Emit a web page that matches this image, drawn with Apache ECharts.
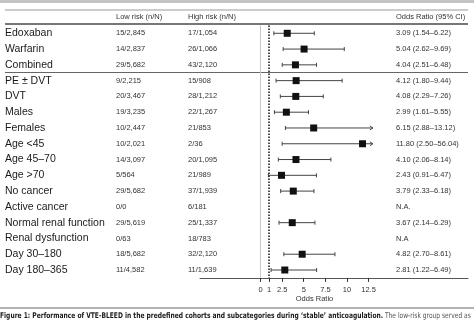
<!DOCTYPE html>
<html>
<head>
<meta charset="utf-8">
<script src="https://cdn.jsdelivr.net/npm/echarts@6/dist/echarts.min.js"></script>
<style>html,body{margin:0;padding:0;background:#fff}#c{width:474px;height:321px}</style>
</head>
<body>
<div id="c"></div>
<script>
const categories = ['Edoxaban','Warfarin','Combined','PE \u00b1 DVT','DVT','Males','Females','Age <45','Age 45\u201370','Age >70','No cancer','Active cancer','Normal renal function','Renal dysfunction','Day 30\u2013180','Day 180\u2013365'];
const lowRisk = ['15/2,845','14/2,837','29/5,682','9/2,215','20/3,467','19/3,235','10/2,447','10/2,021','14/3,097','5/564','29/5,682','0/0','29/5,619','0/63','18/5,682','11/4,582'];
const highRisk = ['17/1,054','26/1,066','43/2,120','15/908','28/1,212','22/1,267','21/853','2/36','20/1,095','21/989','37/1,939','6/181','25/1,337','18/783','32/2,120','11/1,639'];
const oddsRatio = [3.09,5.04,4.04,4.12,4.08,2.99,6.15,11.80,4.10,2.43,3.79,null,3.67,null,4.82,2.81];
const ciLow = [1.54,2.62,2.51,1.80,2.29,1.61,2.88,2.50,2.06,0.91,2.33,null,2.14,null,2.70,1.22];
const ciHigh = [6.22,9.69,6.48,9.44,7.26,5.55,13.12,56.04,8.14,6.47,6.18,null,6.29,null,8.61,6.49];
const naText = {11:'N.A.', 13:'N.A'};
const tickValues = [0,1,2.5,5,7.5,10,12.5];
const ciClip = 13;
const refLine = 1;

const orLabels = categories.map((c,i)=> oddsRatio[i]==null ? naText[i] :
  oddsRatio[i].toFixed(2)+' ('+ciLow[i].toFixed(2)+'\u2013'+ciHigh[i].toFixed(2)+')');

const data = [];
oddsRatio.forEach((v,i)=>{ if(v!=null) data.push([i, v, ciLow[i], ciHigh[i]]); });

const FONT = "'Liberation Sans', Arial, sans-serif";
const chart = echarts.init(document.getElementById('c'), null, {renderer:'canvas'});

function catAxis(arr, pos, margin, size, color){
  return {
    type:'category', data:arr, inverse:true, position:pos,
    axisLine:{show:false}, axisTick:{show:false}, splitLine:{show:false},
    axisLabel:{interval:0, align:'left', margin:margin, fontSize:size, color:color, fontFamily:FONT}
  };
}

chart.setOption({
  animation:false,
  grid:{left:200, right:6, top:25.4, bottom:43.1},
  xAxis:{
    type:'value', min:-7, max:24,
    axisLine:{show:true, lineStyle:{color:'#555', width:1}},
    axisTick:{show:true, customValues:tickValues, length:4, lineStyle:{color:'#333'}},
    axisLabel:{customValues:tickValues, fontSize:7.5, color:'#333', margin:8, fontFamily:FONT,
      formatter:v=>String(v)},
    splitLine:{show:false}
  },
  yAxis:[
    catAxis(categories,'left',195,10.5,'#1a1a1a'),
    catAxis(lowRisk,'left',84,7.5,'#333'),
    catAxis(highRisk,'left',12,7.5,'#333'),
    catAxis(orLabels,'right',-72,7.5,'#333')
  ],
  series:[{
    type:'custom',
    yAxisIndex:0,
    encode:{x:[1,2,3], y:0},
    data:data,
    renderItem:function(params, api){
      const i = api.value(0), or = api.value(1), lo = api.value(2), hi = api.value(3);
      const p = api.coord([or, i]);
      const y = p[1];
      const xl = api.coord([lo, i])[0];
      const clipped = hi > ciClip;
      const xh = api.coord([Math.min(hi, ciClip), i])[0];
      const st = {stroke:'#444', lineWidth:1};
      const ch = [
        {type:'line', shape:{x1:xl, y1:y, x2:xh, y2:y}, style:st},
        {type:'line', shape:{x1:xl, y1:y-2, x2:xl, y2:y+2}, style:st}
      ];
      if(clipped){
        ch.push({type:'polyline', shape:{points:[[xh-3,y-2],[xh,y],[xh-3,y+2]]}, style:{stroke:'#444', lineWidth:1, fill:null}});
      } else {
        ch.push({type:'line', shape:{x1:xh, y1:y-2, x2:xh, y2:y+2}, style:st});
      }
      ch.push({type:'rect', shape:{x:p[0]-3.5, y:y-3.5, width:7, height:7}, style:{fill:'#111'}});
      return {type:'group', children:ch};
    },
    markLine:{
      silent:true, symbol:'none', label:{show:false},
      data:[
        {xAxis:0, lineStyle:{color:'#c8c8c8', width:1, type:'solid'}},
        {xAxis:refLine, lineStyle:{color:'#111', width:1.5, type:[1.5,1.5]}}
      ]
    },
    z:5
  }],
  graphic:[
    {type:'rect', shape:{x:0,y:0,width:474,height:3}, style:{fill:'#c4c4c4'}},
    {type:'line', shape:{x1:5,y1:10,x2:468,y2:10}, style:{stroke:'#999', lineWidth:1}},
    {type:'line', shape:{x1:5,y1:24,x2:468,y2:24}, style:{stroke:'#777', lineWidth:2}},
    {type:'line', shape:{x1:5,y1:72.5,x2:468,y2:72.5}, style:{stroke:'#666', lineWidth:1}},
    {type:'text', x:116, y:16.5, style:{text:'Low risk (n/N)', fill:'#333', font:"7.5px "+FONT, textVerticalAlign:'middle'}},
    {type:'text', x:188, y:16.5, style:{text:'High risk (n/N)', fill:'#333', font:"7.5px "+FONT, textVerticalAlign:'middle'}},
    {type:'text', x:396, y:16.5, style:{text:'Odds Ratio (95% CI)', fill:'#333', font:"7.5px "+FONT, textVerticalAlign:'middle'}},
    {type:'text', x:314.5, y:298.5, style:{text:'Odds Ratio', font:"7.5px "+FONT, fill:'#333', textAlign:'center', textVerticalAlign:'middle'}},
    {type:'line', shape:{x1:0,y1:308,x2:474,y2:308}, style:{stroke:'#999', lineWidth:1.5}},
    {type:'text', x:0, y:315.5, scaleX:0.85, style:{
      text:'{b|Figure 1: Performance of VTE-BLEED in the predefined cohorts and subcategories during \u2018stable\u2019 anticoagulation.}{r| The low-risk group served as}',
      textVerticalAlign:'middle',
      rich:{
        b:{fontFamily:"'Liberation Sans Narrow', 'DejaVu Sans Condensed', sans-serif", fontWeight:'bold', fontSize:7.8, fill:'#1a1a1a', color:'#1a1a1a'},
        r:{fontFamily:"'Liberation Sans Narrow', 'DejaVu Sans Condensed', sans-serif", fontSize:7.8, fill:'#555', color:'#555'}
      }
    }}
  ]
});
</script>
</body>
</html>
